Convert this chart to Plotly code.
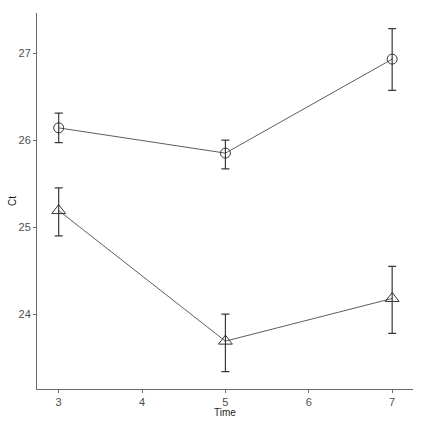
import plotly.graph_objects as go

COLOUR_AXIS = "#6b6b6b"
COLOUR_TEXT = "#4d4d4d"
COLOUR_LINE = "#333333"

TIME = [3, 5, 7]
CT_CIRCLE = [26.14, 25.85, 26.93]
CT_CIRCLE_LOW = [25.97, 25.67, 26.57]
CT_CIRCLE_HIGH = [26.31, 26.00, 27.28]
CT_TRIANGLE = [25.19, 23.69, 24.18]
CT_TRIANGLE_LOW = [24.90, 23.34, 23.78]
CT_TRIANGLE_HIGH = [25.45, 24.00, 24.55]
Y_TICKS = [24, 25, 26, 27]
X_TICKS = [3, 4, 5, 6, 7]


def make_trace(y, low, high, symbol, size):
    return go.Scatter(
        x=TIME, y=y, mode="lines+markers",
        line={"color": COLOUR_LINE, "width": 0.8},
        marker={
            "symbol": symbol, "size": size, "color": "#222222",
            "line": {"color": "#222222", "width": 0.9},
        },
        error_y={
            "type": "data", "symmetric": False,
            "array": [h - v for h, v in zip(high, y)],
            "arrayminus": [v - l for v, l in zip(y, low)],
            "color": "#3a3a3a", "thickness": 1.2, "width": 4,
        },
        showlegend=False,
    )


fig = go.Figure([
    make_trace(CT_CIRCLE, CT_CIRCLE_LOW, CT_CIRCLE_HIGH, "circle-open", 10),
    make_trace(CT_TRIANGLE, CT_TRIANGLE_LOW, CT_TRIANGLE_HIGH, "triangle-up-open", 12),
])

fig.update_layout(
    width=423, height=423,
    plot_bgcolor="white", paper_bgcolor="white",
    margin={"l": 37, "r": 10, "t": 13, "b": 34, "autoexpand": False},
    font={"family": "Liberation Sans, Arial, sans-serif", "size": 11, "color": COLOUR_TEXT},
    annotations=[
        {
            "text": "Time", "xref": "paper", "yref": "paper", "x": 0.5, "y": 0,
            "yanchor": "middle", "yshift": -23, "showarrow": False,
            "font": {"size": 10, "color": "#222222"},
        },
        {
            "text": "Ct", "xref": "paper", "yref": "paper", "x": 0, "y": 0.5,
            "xanchor": "center", "xshift": -25, "textangle": -90, "showarrow": False,
            "font": {"size": 10, "color": "#222222"},
        },
    ],
)

fig.update_xaxes(
    range=[2.74, 7.25], tickvals=X_TICKS, ticktext=[str(t) for t in X_TICKS],
    showgrid=False, zeroline=False, showline=True, linecolor=COLOUR_AXIS, linewidth=1,
    ticks="outside", ticklen=3, tickcolor=COLOUR_AXIS, automargin=False,
)

fig.update_yaxes(
    range=[23.14, 27.46], tickvals=Y_TICKS, ticktext=[str(t) for t in Y_TICKS],
    showgrid=False, zeroline=False, showline=True, linecolor=COLOUR_AXIS, linewidth=1,
    ticks="outside", ticklen=3, tickcolor=COLOUR_AXIS, automargin=False,
)

fig.write_html(
    "out.html",
    config={"displayModeBar": False},
    post_script="document.body.style.margin = '0';",
)
